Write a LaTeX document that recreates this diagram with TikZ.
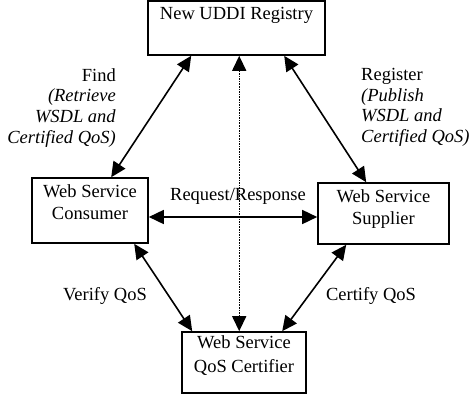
\documentclass[tikz,border=0pt]{standalone}
\usepackage{fontspec}
\setmainfont{Liberation Serif}
\usetikzlibrary{arrows.meta}
\begin{document}
\begin{tikzpicture}[x=1pt,y=-1pt,
  box/.style={draw,line width=1.6pt,inner sep=0pt},
  boxtext/.style={anchor=north,align=center,inner sep=0pt,font=\fontsize{18.5}{22.5}\selectfont},
  lab/.style={inner sep=0pt,font=\fontsize{18.5}{20.7}\selectfont},
  conn/.style={line width=1.6pt,{Triangle[length=15pt,width=14pt]}-{Triangle[length=15pt,width=14pt]}},
  dotconn/.style={conn,densely dotted,line width=1.4pt}]
\useasboundingbox (0,0) rectangle (474,418);
% boxes
\node[box,minimum width=177pt,minimum height=54pt] (uddi) at (236.5,28) {};
\node[box,minimum width=116pt,minimum height=65pt] (cons) at (90,210.5) {};
\node[box,minimum width=131pt,minimum height=61pt] (supp) at (383.5,213.5) {};
\node[box,minimum width=124pt,minimum height=61pt] (cert) at (244,362.5) {};
% box texts
\node[boxtext] (uddit) at ([yshift=-7pt]uddi.north) {New UDDI Registry};
\node[boxtext] (const) at ([yshift=-7pt]cons.north) {Web Service\\Consumer};
\node[boxtext] (suppt) at ([yshift=-7pt]supp.north) {Web Service\\Supplier};
\node[boxtext,font=\fontsize{18.5}{24}\selectfont] (certt) at ([yshift=-4pt]cert.north) {Web Service\\QoS Certifier};
% connectors
\draw[conn] ([xshift=44pt]uddi.south west) -- ([xshift=80pt]cons.north west);
\draw[conn] ([xshift=137pt]uddi.south west) -- ([xshift=49pt]supp.north west);
\draw[dotconn] ([xshift=92pt]uddi.south west) -- ([xshift=58pt]cert.north west);
\draw[conn] ([yshift=-6.5pt]cons.east) -- ([yshift=-3.5pt]supp.west);
\draw[conn] ([xshift=103pt]cons.south west) -- ([xshift=11pt]cert.north west);
\draw[conn] ([xshift=29pt]supp.south west) -- ([xshift=101pt]cert.north west);
% labels
\node[lab,anchor=north east,align=right] (find) at (116,68) {Find\\\textit{(Retrieve}\\\textit{WSDL and}\\\textit{Certified QoS)}};
\node[lab,anchor=north west,align=left] (reg) at (361,68) {Register\\\textit{(Publish}\\\textit{WSDL and}\\\textit{Certified QoS)}};
\node[lab] (req) at (238,196) {Request/Response};
\node[lab] (ver) at (105,296) {Verify QoS};
\node[lab] (cer) at (371,296) {Certify QoS};
\end{tikzpicture}
\end{document}
